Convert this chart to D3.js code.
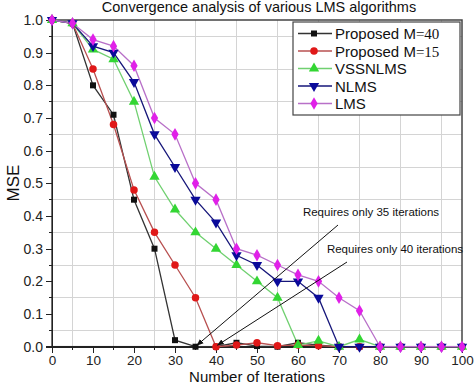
<!DOCTYPE html>
<meta charset="utf-8">
<style>
  body { margin: 0; background: #fff; font-family: "Liberation Sans", Arial, sans-serif; }
  .grid line { stroke: #d4d4d4; stroke-width: 1; shape-rendering: crispEdges; }
  .axis path, .axis line { stroke: #222; shape-rendering: crispEdges; }
  .axis text { fill: #222; font-size: 14px; font-family: "Liberation Sans", Arial, sans-serif; }
  .legend text { font-size: 15px; fill: #111; }
  .note { font-size: 11.5px; fill: #111; }
</style>
<body>
<script src="https://d3js.org/d3.v7.min.js"></script>
<script>
var iterations = [0, 5, 10, 15, 20, 25, 30, 35, 40, 45, 50, 55, 60, 65, 70, 75, 80, 85, 90, 95, 100];

var propM40  = [1.0, 0.99, 0.80, 0.71, 0.45, 0.30, 0.02, 0.0, 0.0, 0.012, 0.002, 0.0, 0.012, 0.005, 0.0, 0.0, 0.0, 0.0, 0.0, 0.0, 0.0];
var propM15  = [1.0, 0.99, 0.85, 0.68, 0.48, 0.35, 0.25, 0.15, 0.0, 0.005, 0.012, 0.003, 0.005, 0.003, 0.0, 0.0, 0.0, 0.0, 0.0, 0.0, 0.0];
var vssnlms  = [1.0, 0.99, 0.91, 0.88, 0.75, 0.52, 0.42, 0.35, 0.30, 0.25, 0.20, 0.15, 0.005, 0.018, 0.0, 0.022, 0.0, 0.0, 0.0, 0.0, 0.0];
var nlms     = [1.0, 0.99, 0.92, 0.90, 0.81, 0.65, 0.55, 0.45, 0.38, 0.28, 0.25, 0.20, 0.20, 0.15, 0.0, 0.0, 0.0, 0.0, 0.0, 0.0, 0.0];
var lms      = [1.0, 0.99, 0.94, 0.92, 0.86, 0.70, 0.65, 0.50, 0.45, 0.30, 0.28, 0.25, 0.22, 0.20, 0.15, 0.11, 0.0, 0.0, 0.0, 0.0, 0.0];

var seriesNames = ["Proposed M", "Proposed M", "VSSNLMS", "NLMS", "LMS"];
var seriesSuffix = ["=40", "=15", "", "", ""];
var seriesValues = [propM40, propM15, vssnlms, nlms, lms];
var markerColor = ["#111111", "#e01818", "#33d633", "#0a0a9a", "#e020e8"];
var lineColor   = ["#333333", "#b85050", "#70d070", "#16167a", "#b870c8"];
var markerShape = [d3.symbolSquare, d3.symbolCircle, d3.symbolTriangle, d3.symbolTriangle, d3.symbolDiamond];
var markerSize  = [36, 44, 46, 46, 46];
var markerFlip  = [false, false, false, true, false];

var xTicks = [0, 10, 20, 30, 40, 50, 60, 70, 80, 90, 100];
var yTicks = [0.0, 0.1, 0.2, 0.3, 0.4, 0.5, 0.6, 0.7, 0.8, 0.9, 1.0];

var margin = {top: 20, left: 52, right: 12, bottom: 38},
    W = 474, H = 385,
    width = W - margin.left - margin.right,
    height = H - margin.top - margin.bottom - 0.3;

var x = d3.scaleLinear().domain([0, 100]).range([0, width]);
var y = d3.scaleLinear().domain([0, 1]).range([height, 0]);

var svg = d3.select("body").append("svg")
    .attr("width", W).attr("height", H);

svg.append("text")
    .attr("x", 259).attr("y", 12)
    .attr("text-anchor", "middle")
    .style("font-size", "14.5px").style("fill", "#111")
    .text("Convergence analysis of various LMS algorithms");

var g = svg.append("g").attr("transform", "translate(" + margin.left + "," + margin.top + ")");

// grid at the half steps
var grid = g.append("g").attr("class", "grid");
grid.selectAll(".gx").data(d3.range(5, 100, 10)).enter().append("line")
    .attr("x1", function(d) { return x(d); }).attr("x2", function(d) { return x(d); })
    .attr("y1", 0).attr("y2", height);
grid.selectAll(".gy").data(d3.range(0.05, 1, 0.1)).enter().append("line")
    .attr("y1", function(d) { return y(d); }).attr("y2", function(d) { return y(d); })
    .attr("x1", 0).attr("x2", width);

// frame
g.append("rect").attr("width", width).attr("height", height)
    .attr("fill", "none").attr("stroke", "#444").attr("stroke-width", 1.5);

// axes
var xAxis = d3.axisBottom(x).tickValues(xTicks).tickSize(6).tickFormat(d3.format("d"));
var yAxis = d3.axisLeft(y).tickValues(yTicks).tickSize(6).tickFormat(d3.format(".1f"));

var gx = g.append("g").attr("class", "axis").attr("transform", "translate(0," + height + ")").call(xAxis);
gx.selectAll(".minor").data(d3.range(5, 100, 10)).enter().append("line")
    .attr("x1", function(d) { return x(d); }).attr("x2", function(d) { return x(d); })
    .attr("y1", 0).attr("y2", 3.5);
gx.select(".domain").attr("stroke-width", 1.5);
gx.selectAll(".tick text").style("font-size", "13.5px").attr("dy", "0.72em");

var gy = g.append("g").attr("class", "axis").call(yAxis);
gy.selectAll(".minor").data(d3.range(0.05, 1, 0.1)).enter().append("line")
    .attr("y1", function(d) { return y(d); }).attr("y2", function(d) { return y(d); })
    .attr("x1", 0).attr("x2", -3.5);
gy.select(".domain").attr("stroke-width", 1.5);
gy.selectAll(".tick text").attr("x", -9);

// axis titles
svg.append("text")
    .attr("transform", "translate(19,183) rotate(-90)")
    .attr("text-anchor", "middle")
    .style("font-size", "17px").style("fill", "#111")
    .text("MSE");
svg.append("text")
    .attr("x", 257).attr("y", 381.5)
    .attr("text-anchor", "middle")
    .style("font-size", "15px").style("fill", "#111")
    .text("Number of Iterations");

// series
var line = d3.line()
    .x(function(d, i) { return x(iterations[i]); })
    .y(function(d) { return y(d); });

seriesValues.forEach(function(vals, k) {
  g.append("path")
    .datum(vals)
    .attr("d", line)
    .attr("fill", "none")
    .attr("stroke", lineColor[k])
    .attr("stroke-width", 1.3);
});

seriesValues.forEach(function(vals, k) {
  var sym = d3.symbol().type(markerShape[k]).size(markerSize[k]);
  g.selectAll(".m" + k).data(vals).enter().append("path")
    .attr("d", sym)
    .attr("transform", function(d, i) {
      return "translate(" + x(iterations[i]) + "," + y(d) + ")" + (markerFlip[k] ? " rotate(180)" : "");
    })
    .attr("fill", markerColor[k]);
});

// annotations
var notes = [
  {text: "Requires only 35 iterations", tx: 371, ty: 216, x1: 338, y1: 225, at: 35},
  {text: "Requires only 40 iterations", tx: 395, ty: 253, x1: 347, y1: 262, at: 40}
];
svg.append("defs").append("marker")
    .attr("id", "arr").attr("viewBox", "0 0 10 10")
    .attr("refX", 9).attr("refY", 5)
    .attr("markerWidth", 7).attr("markerHeight", 7)
    .attr("orient", "auto")
  .append("path").attr("d", "M0,1 L10,5 L0,9 z").attr("fill", "#111");

notes.forEach(function(n) {
  svg.append("text").attr("class", "note")
    .attr("x", n.tx).attr("y", n.ty)
    .attr("text-anchor", "middle")
    .text(n.text);
  svg.append("line")
    .attr("x1", n.x1).attr("y1", n.y1)
    .attr("x2", margin.left + x(n.at) + 1.5).attr("y2", margin.top + y(0) - 1.5)
    .attr("stroke", "#111").attr("stroke-width", 1)
    .attr("marker-end", "url(#arr)");
});

// legend
var lg = svg.append("g").attr("class", "legend").attr("transform", "translate(293,22)");
lg.append("rect").attr("width", 167).attr("height", 93)
    .attr("fill", "#fff").attr("stroke", "#444").attr("stroke-width", 1.2);
seriesNames.forEach(function(name, k) {
  var row = lg.append("g").attr("transform", "translate(0," + (11.5 + k * 17.5) + ")");
  row.append("line").attr("x1", 5).attr("x2", 39).attr("y1", 0).attr("y2", 0)
    .attr("stroke", lineColor[k]).attr("stroke-width", 1.3);
  row.append("path")
    .attr("d", d3.symbol().type(markerShape[k]).size(markerSize[k])())
    .attr("transform", "translate(21,0)" + (markerFlip[k] ? " rotate(180)" : ""))
    .attr("fill", markerColor[k]);
  var t = row.append("text").attr("x", 42).attr("y", 5.5).text(name);
  if (seriesSuffix[k]) {
    t.append("tspan").style("font-family", "'Liberation Serif', serif").text(seriesSuffix[k]);
  }
});
</script>
</body>
